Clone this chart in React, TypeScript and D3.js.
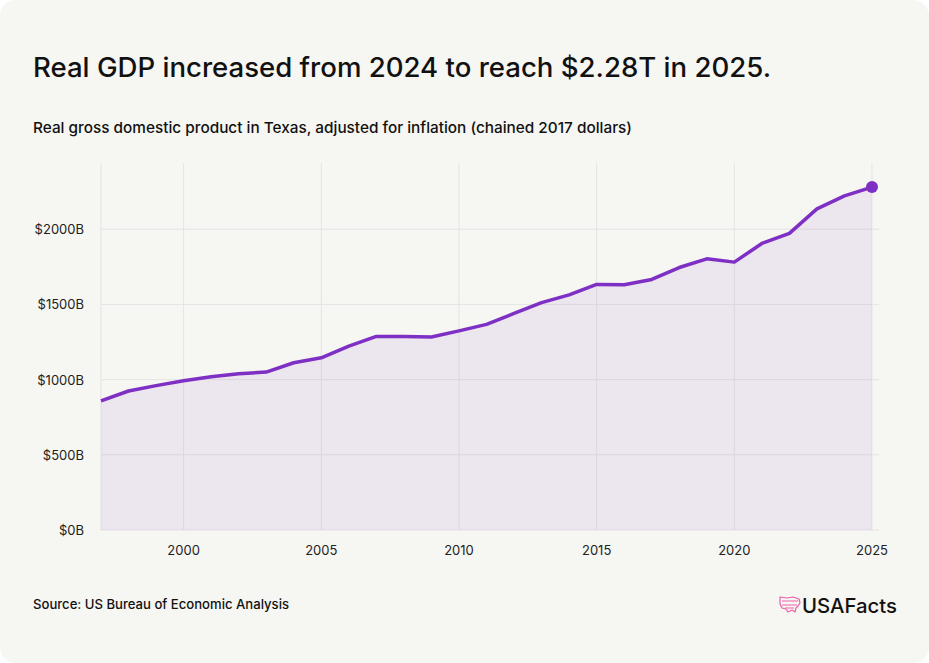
import * as d3 from "d3";
import { useEffect, useRef } from "react";

// Texas real GDP, billions of chained 2017 dollars
const years = [1997, 1998, 1999, 2000, 2001, 2002, 2003, 2004, 2005, 2006, 2007, 2008, 2009, 2010, 2011, 2012, 2013, 2014, 2015, 2016, 2017, 2018, 2019, 2020, 2021, 2022, 2023, 2024, 2025];
const gdp = [859, 924, 960, 992, 1019, 1039, 1050, 1112, 1145, 1223, 1287, 1286, 1283, 1324, 1367, 1440, 1512, 1563, 1633, 1631, 1666, 1745, 1803, 1781, 1905, 1972, 2135, 2221, 2280];
const xTicks = [2000, 2005, 2010, 2015, 2020, 2025];
const yTicks = [0, 500, 1000, 1500, 2000];

const title = "Real GDP increased from 2024 to reach $2.28T in 2025.";
const subtitle = "Real gross domestic product in Texas, adjusted for inflation (chained 2017 dollars)";
const source = "Source: US Bureau of Economic Analysis";

function App() {
    const ref = useRef<SVGSVGElement>(null);

    useEffect(() => {
        const svg = d3.select(ref.current);
        svg.selectAll("*").remove();

        const width = 929;
        const height = 663;
        const font = "Inter, 'Noto Sans', sans-serif";

        // card background
        svg.append("rect")
            .attr("width", width)
            .attr("height", height)
            .attr("rx", 16)
            .attr("fill", "#f6f6f2");

        // layout
        const left = 101;
        const right = 872;
        const top = 163;
        const bottom = 530;

        const x = d3.scaleLinear().domain([1997, 2025]).range([left, right]);
        const y = d3.scaleLinear().domain([0, 2440]).range([bottom, top]);

        const data = years.map((yr, i) => ({ year: yr, value: gdp[i] }));

        // titles
        svg.append("text")
            .attr("x", 33)
            .attr("y", 77)
            .attr("font-family", font)
            .attr("font-size", 27)
            .attr("font-weight", 500)
            .attr("fill", "#111")
            .attr("textLength", 738)
            .attr("lengthAdjust", "spacingAndGlyphs")
            .text(title);

        svg.append("text")
            .attr("x", 33)
            .attr("y", 133)
            .attr("font-family", font)
            .attr("font-size", 15)
            .attr("font-weight", 500)
            .attr("fill", "#111")
            .attr("textLength", 599)
            .attr("lengthAdjust", "spacingAndGlyphs")
            .text(subtitle);

        const g = svg.append("g");

        // gridlines
        g.selectAll(".hgrid")
            .data(yTicks)
            .enter()
            .append("line")
            .attr("x1", left)
            .attr("x2", 879)
            .attr("y1", d => y(d))
            .attr("y2", d => y(d))
            .attr("stroke", "#e5e3e5")
            .attr("stroke-width", 1);

        g.selectAll(".vgrid")
            .data([1997, ...xTicks])
            .enter()
            .append("line")
            .attr("x1", d => x(d))
            .attr("x2", d => x(d))
            .attr("y1", top)
            .attr("y2", bottom)
            .attr("stroke", "#e5e3e5")
            .attr("stroke-width", 1);

        // area + line
        const area = d3.area<{ year: number; value: number }>()
            .x(d => x(d.year))
            .y0(y(0))
            .y1(d => y(d.value));

        const line = d3.line<{ year: number; value: number }>()
            .x(d => x(d.year))
            .y(d => y(d.value));

        g.append("path")
            .datum(data)
            .attr("d", area)
            .attr("fill", "#7e2fc4")
            .attr("fill-opacity", 0.08);

        g.append("path")
            .datum(data)
            .attr("d", line)
            .attr("fill", "none")
            .attr("stroke", "#7e2fc4")
            .attr("stroke-width", 3.5)
            .attr("stroke-linejoin", "round");

        const last = data[data.length - 1];
        g.append("circle")
            .attr("cx", x(last.year))
            .attr("cy", y(last.value))
            .attr("r", 6)
            .attr("fill", "#7e2fc4");

        // axis labels
        g.selectAll(".ylab")
            .data(yTicks)
            .enter()
            .append("text")
            .attr("x", 84)
            .attr("y", d => y(d) + 5)
            .attr("text-anchor", "end")
            .attr("font-family", font)
            .attr("font-size", 13)
            .attr("fill", "#222")
            .text(d => `$${d}B`);

        g.selectAll(".xlab")
            .data(xTicks)
            .enter()
            .append("text")
            .attr("x", d => x(d))
            .attr("y", 555)
            .attr("text-anchor", "middle")
            .attr("font-family", font)
            .attr("font-size", 13)
            .attr("fill", "#222")
            .text(d => d);

        // footer
        svg.append("text")
            .attr("x", 33)
            .attr("y", 609)
            .attr("font-family", font)
            .attr("font-size", 13)
            .attr("font-weight", 500)
            .attr("fill", "#111")
            .attr("textLength", 256)
            .attr("lengthAdjust", "spacingAndGlyphs")
            .text(source);

        // logo mark: rough US outline with stripes
        const logo = svg.append("g")
            .attr("transform", "translate(779,596)")
            .attr("fill", "none")
            .attr("stroke", "#ee5fa7")
            .attr("stroke-width", 1.2)
            .attr("stroke-linejoin", "round");
        logo.append("path")
            .attr("d", "M1,1 L8,2 L14,1 L20,3 L21,7 L19,10 L17,12 L16,16 L13,14 L9,16 L7,13 L3,12 L1,8 Z");
        logo.append("path").attr("d", "M3,5 L19,5 M3,9 L18,9 M6,12 L15,12");

        svg.append("text")
            .attr("x", 802)
            .attr("y", 613)
            .attr("font-family", font)
            .attr("font-size", 20)
            .attr("font-weight", 500)
            .attr("fill", "#111")
            .attr("textLength", 95)
            .attr("lengthAdjust", "spacingAndGlyphs")
            .text("USAFacts");
    }, []);

    return (
        <div style={{ position: "absolute", left: 0, top: 0, background: "#fff" }}>
            <svg ref={ref} width={929} height={663} style={{ display: "block" }} />
        </div>
    );
}

export default App;
